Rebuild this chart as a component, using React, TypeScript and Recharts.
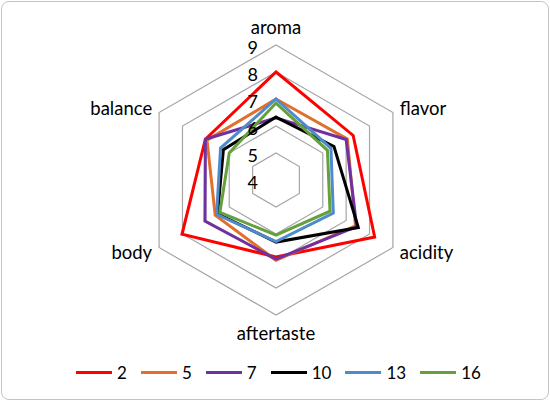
import React from "react";
import {
  RadarChart,
  Radar,
  PolarGrid,
  PolarAngleAxis,
  PolarRadiusAxis,
} from "recharts";

const attributes = ["aroma", "flavor", "acidity", "aftertaste", "body", "balance"];

const day2 = [8.0, 7.3, 8.22, 6.85, 8.02, 7.02];
const day5 = [7.0, 7.05, 7.4, 6.97, 6.6, 6.95];
const day7 = [6.3, 7.0, 7.45, 6.93, 7.04, 7.02];
const day10 = [6.33, 6.48, 7.52, 6.3, 6.5, 6.25];
const day13 = [7.0, 6.35, 6.45, 6.28, 6.54, 6.37];
const day16 = [6.85, 6.2, 6.31, 6.04, 6.4, 6.0];

const radiusTicks = [4, 5, 6, 7, 8, 9];

const series = [
  { key: "2", values: day2, color: "#FF0000" },
  { key: "5", values: day5, color: "#E2702C" },
  { key: "7", values: day7, color: "#7030A0" },
  { key: "10", values: day10, color: "#000000" },
  { key: "13", values: day13, color: "#4F8ACB" },
  { key: "16", values: day16, color: "#64A03C" },
];

const data = attributes.map((attr, i) => {
  const row: Record<string, string | number> = { attr };
  series.forEach((s) => {
    row[s.key] = s.values[i];
  });
  return row;
});

const FONT = "Lato, 'Open Sans', sans-serif";

const AngleTick = (props: any) => {
  const { x, y, payload, textAnchor } = props;
  let ty = y;
  if (textAnchor === "middle") {
    ty = y < 180 ? y - 10 : y + 10;
  } else {
    ty = y < 180 ? y - 1 : y;
  }
  return (
    <text
      x={x}
      y={ty}
      textAnchor={textAnchor}
      dominantBaseline="central"
      fontSize={18.5}
      fontFamily={FONT}
      fill="#000"
    >
      {payload.value}
    </text>
  );
};

const RadiusTick = (props: any) => {
  const { x, y, payload } = props;
  return (
    <text
      x={x - 18}
      y={y + 2}
      textAnchor="end"
      dominantBaseline="central"
      fontSize={18}
      fontFamily={FONT}
      fill="#000"
    >
      {payload.value}
    </text>
  );
};

export default function App() {
  return (
    <div
      style={{
        position: "absolute",
        left: 0,
        top: 0,
        width: 550,
        height: 405,
        background: "#fff",
        fontFamily: FONT,
      }}
    >
      <div
        style={{
          position: "absolute",
          left: 1,
          top: 1,
          width: 546,
          height: 397,
          border: "1px solid #c4c4c4",
          borderRadius: 8,
        }}
      />
      <div style={{ position: "absolute", left: 0, top: 0 }}>
        <RadarChart
          width={550}
          height={405}
          cx={276}
          cy={180}
          outerRadius={135}
          data={data}
          margin={{ top: 0, right: 0, bottom: 0, left: 0 }}
        >
          <PolarGrid gridType="polygon" radialLines={false} stroke="#a6a6a6" strokeWidth={1.2} />
          <PolarAngleAxis dataKey="attr" tick={<AngleTick />} tickLine={false} axisLine={false} />
          <PolarRadiusAxis
            domain={[4, 9]}
            ticks={radiusTicks as any}
            tickCount={6}
            angle={90}
            axisLine={false}
            tickLine={false}
            tick={<RadiusTick />}
          />
          {series.map((s) => (
            <Radar
              key={s.key}
              name={s.key}
              dataKey={s.key}
              stroke={s.color}
              strokeWidth={3}
              fill="none"
              fillOpacity={0}
              dot={false}
              isAnimationActive={false}
            />
          ))}
        </RadarChart>
      </div>
      <div
        style={{
          position: "absolute",
          left: 0,
          top: 361,
          width: 557,
          display: "flex",
          justifyContent: "center",
          alignItems: "center",
          gap: 14,
          fontSize: 17,
          height: 22,
        }}
      >
        {series.map((s) => (
          <div key={s.key} style={{ display: "flex", alignItems: "center" }}>
            <span
              style={{
                display: "inline-block",
                width: 36,
                height: 3,
                background: s.color,
                marginRight: 5,
              }}
            />
            <span>{s.key}</span>
          </div>
        ))}
      </div>
    </div>
  );
}
